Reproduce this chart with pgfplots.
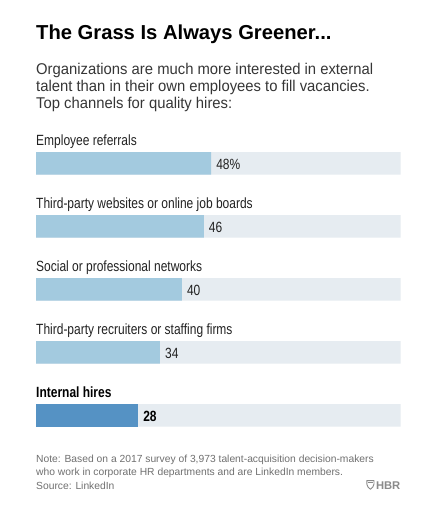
\documentclass[border=0pt]{standalone}
\usepackage{fontspec}
\setmainfont{Liberation Sans}
\newfontfamily\condfont[FakeStretch=0.81]{Liberation Sans}
\newfontfamily\subfont[FakeStretch=0.95]{Liberation Sans}
\usepackage{pgfplots}
\pgfplotsset{compat=1.18}
\definecolor{bgbar}{HTML}{E6ECF1}
\definecolor{lightbar}{HTML}{A3CADF}
\definecolor{darkbar}{HTML}{5592C4}
\definecolor{txtdark}{HTML}{222222}
\definecolor{subtxt}{HTML}{363636}
\definecolor{notetxt}{HTML}{707070}
\definecolor{logogray}{HTML}{8A8A8A}
\begin{document}
\begin{tikzpicture}
\path[use as bounding box, fill=white] (0,0) rectangle (437bp,-510bp);
% title
\node[anchor=base west, inner sep=0, text=black] at (36bp,-39bp) {\fontsize{20.2bp}{24bp}\selectfont\bfseries The Grass Is Always Greener...};
% subtitle
\node[anchor=base west, inner sep=0, text=subtxt] at (36bp,-74bp) {\subfont\fontsize{15.6bp}{17.3bp}\selectfont Organizations are much more interested in external};
\node[anchor=base west, inner sep=0, text=subtxt] at (36bp,-91.3bp) {\subfont\fontsize{15.6bp}{17.3bp}\selectfont talent than in their own employees to fill vacancies.};
\node[anchor=base west, inner sep=0, text=subtxt] at (36bp,-108.6bp) {\subfont\fontsize{15.6bp}{17.3bp}\selectfont Top channels for quality hires:};
\begin{axis}[
  at={(36bp,-446.8bp)}, anchor=south west,
  scale only axis, width=364.7bp, height=315bp,
  xmin=0, xmax=100, ymin=-0.5, ymax=4.5,
  hide axis, clip=false,
  xbar, bar width=22.5bp, bar shift=0pt,
]
\addplot[fill=bgbar, draw=none] coordinates {(100,0) (100,1) (100,2) (100,3) (100,4)};
\addplot[fill=lightbar, draw=none,
  nodes near coords, point meta=explicit symbolic,
  nodes near coords style={anchor=west, inner sep=0, xshift=5bp, yshift=-0.8bp, text=txtdark, font=\condfont\fontsize{14.8bp}{16bp}\selectfont}]
  coordinates {(48,4) [48\%] (46,3) [46] (40,2) [40] (34,1) [34]};
\addplot[fill=darkbar, draw=none,
  nodes near coords, point meta=explicit symbolic,
  nodes near coords style={anchor=west, inner sep=0, xshift=5bp, yshift=-0.8bp, text=black, font=\condfont\bfseries\fontsize{14.8bp}{16bp}\selectfont}]
  coordinates {(28,0) [28]};
\node[anchor=base west, inner sep=0, yshift=17.75bp, text=txtdark, font=\condfont\fontsize{14.8bp}{16bp}\selectfont] at (axis cs:0,4) {Employee referrals};
\node[anchor=base west, inner sep=0, yshift=17.75bp, text=txtdark, font=\condfont\fontsize{14.8bp}{16bp}\selectfont] at (axis cs:0,3) {Third-party websites or online job boards};
\node[anchor=base west, inner sep=0, yshift=17.75bp, text=txtdark, font=\condfont\fontsize{14.8bp}{16bp}\selectfont] at (axis cs:0,2) {Social or professional networks};
\node[anchor=base west, inner sep=0, yshift=17.75bp, text=txtdark, font=\condfont\fontsize{14.8bp}{16bp}\selectfont] at (axis cs:0,1) {Third-party recruiters or staffing firms};
\node[anchor=base west, inner sep=0, yshift=17.75bp, text=black, font=\condfont\bfseries\fontsize{14.8bp}{16bp}\selectfont] at (axis cs:0,0) {Internal hires};
\end{axis}
% note
\node[anchor=base west, inner sep=0, text=notetxt] at (36bp,-462.5bp) {\fontsize{10.3bp}{13bp}\selectfont Note: Based on a 2017 survey of 3,973 talent-acquisition decision-makers};
\node[anchor=base west, inner sep=0, text=notetxt] at (36bp,-475.8bp) {\fontsize{10.3bp}{13bp}\selectfont who work in corporate HR departments and are LinkedIn members.};
\node[anchor=base west, inner sep=0, text=notetxt] at (36bp,-489bp) {\fontsize{10.3bp}{13bp}\selectfont Source: LinkedIn};
% HBR logo
\node[anchor=base east, inner sep=0, text=logogray] at (400.5bp,-489bp) {\fontsize{11.2bp}{13bp}\selectfont\bfseries HBR};
\draw[logogray, line width=0.9bp, line join=round] (366.8bp,-480.6bp) -- (374bp,-480.6bp) -- (374bp,-484bp) .. controls (374bp,-486.5bp) and (372bp,-488bp) .. (370.4bp,-489.2bp) .. controls (368.8bp,-488bp) and (366.8bp,-486.5bp) .. (366.8bp,-484bp) -- cycle;
\draw[logogray, line width=0.6bp] (368bp,-482.6bp) -- (372.8bp,-482.6bp);
\end{tikzpicture}
\end{document}
